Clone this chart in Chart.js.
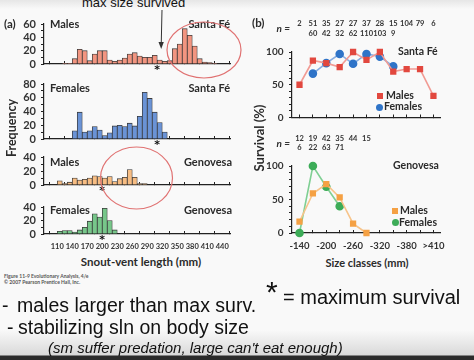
<!DOCTYPE html>
<html>
<head>
<meta charset="utf-8">
<script src="https://cdn.jsdelivr.net/npm/chart.js@4.4.1/dist/chart.umd.min.js"></script>
<style>
body{margin:0;width:474px;height:360px;overflow:hidden;position:relative;color:#2b2b2b;font-family:Lato,sans-serif;
  background:linear-gradient(#e6e6e6 0px,#f9f9f9 9px,#f9f9f9 330px,#d9d9d9 355px,#2b2b2b 356px,#2b2b2b 360px);}
canvas{position:absolute}
.t{position:absolute;font-weight:bold;line-height:1;white-space:nowrap}
.big{position:absolute;font-family:"Liberation Sans",Arial,sans-serif;line-height:1;white-space:nowrap;color:#111}
.rot{position:absolute;font-weight:bold;text-align:center;transform:rotate(-90deg);white-space:nowrap}
.mk{position:absolute}
svg{position:absolute;left:0;top:0}
</style>
</head>
<body>
<canvas id="h1"></canvas>
<canvas id="h2"></canvas>
<canvas id="h3"></canvas>
<canvas id="h4"></canvas>
<canvas id="s1"></canvas>
<canvas id="s2"></canvas>

<div class="big" style="left:82px;top:-3.7px;font-size:13px">max size survived</div>
<div class="t" style="left:4px;top:17.9px;font-size:11.5px">(a)</div>
<div class="t" style="left:252px;top:16.9px;font-size:11.5px">(b)</div>

<div class="t" style="left:50px;top:18.2px;font-size:11px">Males</div>
<div class="t" style="right:244px;top:18.2px;font-size:11px">Santa Fé</div>
<div class="t" style="left:50px;top:82.2px;font-size:11px">Females</div>
<div class="t" style="right:244px;top:82.2px;font-size:11px">Santa Fé</div>
<div class="t" style="left:50px;top:155.9px;font-size:11px">Males</div>
<div class="t" style="right:242px;top:155.9px;font-size:11px">Genovesa</div>
<div class="t" style="left:50px;top:203.5px;font-size:11px">Females</div>
<div class="t" style="right:242px;top:203.5px;font-size:11px">Genovesa</div>

<div class="rot" style="left:-30px;top:120px;width:84px;height:16px;line-height:16px;font-size:12.5px">Frequency</div>
<div class="rot" style="left:214px;top:130px;width:90px;height:16px;line-height:16px;font-size:13px">Survival (%)</div>

<div class="t" style="left:0;width:282px;text-align:center;top:255.9px;font-size:11.5px">Snout-vent length (mm)</div>
<div class="t" style="left:267px;width:200px;text-align:center;top:257.2px;font-size:11px">Size classes (mm)</div>
<div class="t" style="left:4px;top:274.3px;font-size:5px;color:#555">Figure 11-9 Evolutionary Analysis, 4/e</div>
<div class="t" style="left:4px;top:280.3px;font-size:5px;color:#555">© 2007 Pearson Prentice Hall, Inc.</div>

<div class="t" style="left:398px;top:46.1px;font-size:10.5px">Santa Fé</div>
<div class="t" style="left:393px;top:160.4px;font-size:10.5px">Genovesa</div>

<span class="mk" style="left:377px;top:93px;width:6px;height:6px;background:#e2483f"></span>
<div class="t" style="left:386px;top:90.4px;font-size:10.5px">Males</div>
<span class="mk" style="left:375.5px;top:103.5px;width:7px;height:7px;border-radius:50%;background:#2f74c8"></span>
<div class="t" style="left:384px;top:101.4px;font-size:10.5px">Females</div>
<span class="mk" style="left:392px;top:207.7px;width:6px;height:6px;background:#f5a144"></span>
<div class="t" style="left:400px;top:205.1px;font-size:10.5px">Males</div>
<span class="mk" style="left:391.5px;top:219.2px;width:7px;height:7px;border-radius:50%;background:#3dac58"></span>
<div class="t" style="left:399px;top:217.1px;font-size:10.5px">Females</div>

<div class="big" style="left:2px;top:296.2px;font-size:19.5px">-</div>
<div class="big" style="left:17px;top:296.2px;font-size:19.5px">males larger than max surv.</div>
<div class="big" style="left:7px;top:317.5px;font-size:19.5px">-</div>
<div class="big" style="left:18px;top:317.5px;font-size:19.5px">stabilizing sln on body size</div>
<div class="big" style="left:48px;top:340.3px;font-size:15px;font-style:italic">(sm suffer predation, large can't eat enough)</div>
<div class="big" style="left:266px;top:277px;font-size:30px">*</div>
<div class="big" style="left:283px;top:287px;font-size:20px">= maximum survival</div>

<svg width="474" height="360">
  <ellipse cx="204" cy="50" rx="37" ry="28" fill="none" stroke="#e07272" stroke-width="1.2"/>
  <ellipse cx="136.5" cy="178" rx="36" ry="31" fill="none" stroke="#e07272" stroke-width="1.2"/>
  <line x1="162" y1="10" x2="161.2" y2="46" stroke="#333" stroke-width="1"/>
  <path d="M158.5 42 L161.2 49 L163.8 42 Z" fill="#333"/>
</svg>

<script>
// panel (a): histogram bins, lower edge in mm
const bins = [110,120,130,140,150,160,170,180,190,200,210,220,230,240,250,260,270,280,290,300,310,320,330,340,350,360,370,380,390,400,410,420,430];
const snoutTicks = [110,140,170,200,230,260,290,320,350,380,410,440];

const sfMales      = [0,1,1,8,22,20,5,15,20,20,6,4,6,9,15,17,12,10,10,13,6,4,5,23,30,53,43,27,8,3,2,1,0];
const sfFemales    = [0,0,0,12,39,10,12,18,13,5,9,19,20,18,23,19,33,68,59,39,24,10,0,0,0,0,0,0,0,0,0,0,0];
const genMales     = [6,2,4,10,7,8,10,13,12,10,12,5,9,11,22,11,2,2,0,0,0,0,0,0,0,0,0,0,0,0,0,0,0];
const genFemales   = [4,5,5,3,6,10,19,30,25,38,20,6,0,0,0,0,0,0,0,0,0,0,0,0,0,0,0,0,0,0,0,0,0];
const maxSurvived  = [310, 310, 200, 200];

// panel (b): survival by size class
const sizeClasses  = ['-140','-170','-200','-230','-260','-290','-320','-350','-380','-410','>410'];
const sfMaleSurv   = [50,87,83,77,100,88,100,70,74,74,33];
const sfFemaleSurv = [null,67,83,97,82,97,93,78,null,null,null];
const genMaleSurv  = [17,59,73,53,14,0,null,null,null,null,null];
const genFemaleSurv= [0,100,69,40,null,null,null,null,null,null,null];
const sfMaleN      = [2,51,35,27,27,37,28,15,104,79,6];
const sfFemaleN    = [null,60,42,32,62,110,103,9,null,null,null];
const genMaleN     = [12,19,42,35,44,15,null,null,null,null,null];
const genFemaleN   = [6,22,63,71,null,null,null,null,null,null,null];

Chart.defaults.font.family = 'Lato';
Chart.defaults.color = '#333';

function place(id, left, top, w, h) {
  const c = document.getElementById(id);
  c.width = w; c.height = h;
  c.style.left = left + 'px'; c.style.top = top + 'px';
  return c;
}

const starPlugin = {
  id: 'maxStar',
  afterDraw(chart, args, opts) {
    const ctx = chart.ctx, x = chart.scales.x;
    ctx.save();
    ctx.fillStyle = '#111';
    ctx.font = 'bold 11px "DejaVu Sans"';
    ctx.textAlign = 'center';
    ctx.textBaseline = 'top';
    ctx.fillText('*', x.getPixelForValue(opts.value), chart.chartArea.bottom + 1);
    ctx.restore();
  }
};

const nPlugin = {
  id: 'nRows',
  afterDraw(chart, args, opts) {
    const ctx = chart.ctx, x = chart.scales.x;
    ctx.save();
    ctx.fillStyle = '#333';
    ctx.textAlign = 'center';
    ctx.textBaseline = 'middle';
    ctx.font = 'bold 7.5px Lato';
    opts.rows.forEach((row, r) => {
      row.forEach((n, i) => {
        if (n !== null) ctx.fillText(n, x.getPixelForValue(i), opts.y[r]);
      });
    });
    ctx.font = 'italic bold 10px Lato';
    ctx.textAlign = 'right';
    ctx.fillText('n =', x.left - 2, opts.ny);
    ctx.restore();
  }
};

function histogram(id, top, areaH, xAxisH, counts, color, yMax, star, showLabels) {
  const c = place(id, 0, top, 236, 8 + areaH + xAxisH);
  return new Chart(c, {
    type: 'bar',
    data: {
      datasets: [{
        data: bins.map((b, i) => ({x: b + 5, y: counts[i]})),
        backgroundColor: color,
        borderColor: '#3a3a3a',
        borderWidth: 0.8,
        barPercentage: 1,
        categoryPercentage: 1
      }]
    },
    options: {
      responsive: false,
      animation: false,
      layout: {padding: {top: 8, right: 6, left: 0, bottom: 0}},
      plugins: {legend: {display: false}, tooltip: {enabled: false}, maxStar: {value: star}},
      scales: {
        x: {
          type: 'linear', min: 99, max: 440,
          afterBuildTicks: s => { s.ticks = snoutTicks.map(v => ({value: v})); },
          afterFit: s => { s.height = xAxisH; s.paddingLeft = 0; s.paddingRight = 0; },
          grid: {drawOnChartArea: false, tickLength: -3, color: '#222'},
          border: {color: '#222', width: 1.2},
          ticks: {display: showLabels, autoSkip: false, maxRotation: 0, padding: 11,
                  font: {size: 7.5, weight: 'bold'}}
        },
        y: {
          min: 0, max: yMax,
          afterBuildTicks: s => {
            const t = [];
            for (let v = 0; v <= yMax; v += 10) t.push({value: v});
            s.ticks = t;
          },
          afterFit: s => { s.width = 44; s.paddingTop = 0; s.paddingBottom = 0; },
          grid: {drawOnChartArea: false, tickLength: 3, color: '#222'},
          border: {color: '#222', width: 1.2},
          ticks: {autoSkip: false, padding: 5, font: {size: 11, weight: 'bold'},
                  callback: v => (v % 20 === 0 ? v : '')}
        }
      }
    },
    plugins: [starPlugin]
  });
}

histogram('h1', 16, 40, 10, sfMales, '#f29580', 60, maxSurvived[0], false);
histogram('h2', 76, 55, 10, sfFemales, '#6a93d6', 80, maxSurvived[1], false);
histogram('h3', 149, 28, 10, genMales, '#f7bd83', 40, maxSurvived[2], false);
histogram('h4', 199, 27, 20, genFemales, '#77c78a', 40, maxSurvived[3], true);

function points(vals) {
  return vals.map((v, i) => ({x: i, y: v})).filter(p => p.y !== null);
}

function survival(id, top, h, xAxisH, showLabels, males, females, mc, ml, fc, fl, nRows, nY, nny) {
  const c = place(id, 244, top, 206, h);
  return new Chart(c, {
    type: 'line',
    data: {
      datasets: [
        {label: 'Males', data: points(males), borderColor: ml, backgroundColor: mc,
         pointBackgroundColor: mc, pointBorderColor: mc, pointStyle: 'rect', pointRadius: 3.3,
         borderWidth: 1.6, tension: 0, clip: false},
        {label: 'Females', data: points(females), borderColor: fl, backgroundColor: fc,
         pointBackgroundColor: fc, pointBorderColor: fc, pointStyle: 'circle', pointRadius: 3.5,
         borderWidth: 1.6, tension: 0, clip: false}
      ]
    },
    options: {
      responsive: false,
      animation: false,
      layout: {padding: {top: 38, right: 10, left: 0, bottom: 0}},
      plugins: {legend: {display: false}, tooltip: {enabled: false},
                nRows: {rows: nRows, y: nY, ny: nny}},
      scales: {
        x: {
          type: 'linear', min: -0.56, max: 10.49,
          afterBuildTicks: s => { s.ticks = sizeClasses.map((_, i) => ({value: i})); },
          afterFit: s => { s.height = xAxisH; s.paddingLeft = 0; s.paddingRight = 0; },
          grid: {drawOnChartArea: false, tickLength: -3, color: '#222'},
          border: {color: '#222', width: 1.2},
          ticks: {display: showLabels, autoSkip: false, maxRotation: 0, padding: 10.7,
                  font: {size: 9.5, weight: 'bold'},
                  callback: v => (v % 2 === 0 ? sizeClasses[v] : '')}
        },
        y: {
          min: 0, max: 100,
          afterBuildTicks: s => {
            const t = [];
            for (let v = 0; v <= 100; v += 10) t.push({value: v});
            s.ticks = t;
          },
          afterFit: s => { s.width = 48; s.paddingTop = 0; s.paddingBottom = 0; },
          grid: {drawOnChartArea: false, tickLength: 3, color: '#222'},
          border: {color: '#222', width: 1.2},
          ticks: {autoSkip: false, padding: 5.5, font: {size: 10, weight: 'bold'},
                  callback: v => (v % 50 === 0 ? v : '')}
        }
      }
    },
    plugins: [nPlugin]
  });
}

survival('s1', 14, 110, 6.5, false, sfMaleSurv, sfFemaleSurv,
         '#e2483f', '#f19b94', '#2f74c8', '#86ace0', [sfMaleN, sfFemaleN], [10, 20], 15);
survival('s2', 128, 125, 20, true, genMaleSurv, genFemaleSurv,
         '#f5a144', '#f7c48a', '#3dac58', '#7fcf93', [genMaleN, genFemaleN], [10.3, 19.3], 15.5);
</script>
</body>
</html>
